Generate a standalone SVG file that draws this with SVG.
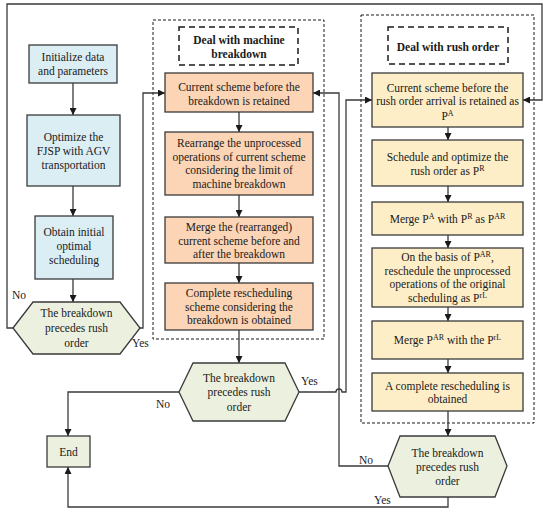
<svg xmlns="http://www.w3.org/2000/svg" width="550" height="513" viewBox="0 0 550 513">
<defs>
<marker id="ah" viewBox="0 0 8 8" refX="8" refY="4" markerWidth="7" markerHeight="7" markerUnits="userSpaceOnUse" orient="auto">
<path d="M0,0 L8,4 L0,8 Z" fill="#1a1a1a"/>
</marker>
<style>
text{font-family:"Liberation Serif","Times New Roman",serif;font-size:11.5px;fill:#1a1a1a;text-anchor:middle}
.lbl{text-anchor:start}
.ttl{font-weight:bold}
.blue{fill:#dbeef4;stroke:#3a3a3a;stroke-width:1.3}
.peach{fill:#fbd5b5;stroke:#3a3a3a;stroke-width:1.3}
.yellow{fill:#fdeec8;stroke:#3a3a3a;stroke-width:1.3}
.green{fill:#ebf1de;stroke:#3a3a3a;stroke-width:1.3}
.frame{fill:none;stroke:#1a1a1a;stroke-width:1;stroke-dasharray:3,2}
.tbox{fill:none;stroke:#1a1a1a;stroke-width:1.5;stroke-dasharray:6,4}
.c{fill:none;stroke:#3a3a3a;stroke-width:1.3}
.a{marker-end:url(#ah)}
</style>
</defs>

<g id="frames">
<rect class="frame" x="153" y="20" width="171" height="319"/>
<rect class="frame" x="361" y="15" width="173" height="408"/>
</g>

<g id="title-machine">
<rect class="tbox" x="179" y="27" width="119" height="38"/>
<text class="ttl" x="239" y="44">Deal with machine</text>
<text class="ttl" x="239" y="58">breakdown</text>
</g>
<g id="title-rush">
<rect class="tbox" x="388" y="27" width="120" height="37"/>
<text class="ttl" x="448" y="51">Deal with rush order</text>
</g>

<g id="connectors">
<path class="c a" d="M73,83 V115"/>
<path class="c a" d="M73,186 V216"/>
<path class="c a" d="M73,279 V302"/>
<path class="c a" d="M13,328 H7 V4 H542 V100 H523"/>
<path class="c a" d="M140,328 H143 V93 H165"/>
<path class="c a" d="M239,112 V132"/>
<path class="c a" d="M239,195 V217"/>
<path class="c a" d="M239,263 V283"/>
<path class="c a" d="M239,330 V363"/>
<path class="c a" d="M299,392 H336 A3,3 0 0 1 342,392 H346 V100 H372"/>
<path class="c a" d="M179,392 H68 V436"/>
<path class="c a" d="M448,127 V140"/>
<path class="c a" d="M448,186 V202"/>
<path class="c a" d="M448,235 V248"/>
<path class="c a" d="M448,307 V321"/>
<path class="c a" d="M448,359 V373"/>
<path class="c a" d="M448,411 V436"/>
<path class="c a" d="M388,466 H339 V93 H313"/>
<path class="c a" d="M448,497 V507 H68 V467"/>
</g>

<g id="labels">
<text class="lbl" x="12" y="299">No</text>
<text class="lbl" x="132" y="347">Yes</text>
<text class="lbl" x="301" y="385">Yes</text>
<text class="lbl" x="156" y="408">No</text>
<text class="lbl" x="359" y="464">No</text>
<text class="lbl" x="374" y="504">Yes</text>
</g>

<g id="init">
<rect class="blue" x="29" y="45" width="88" height="38"/>
<text x="73" y="61">Initialize data</text>
<text x="73" y="75">and parameters</text>
</g>
<g id="optimize">
<rect class="blue" x="27" y="115" width="93" height="71"/>
<text x="73.5" y="141">Optimize the</text>
<text x="73.5" y="155">FJSP with AGV</text>
<text x="73.5" y="169">transportation</text>
</g>
<g id="obtain">
<rect class="blue" x="35" y="216" width="78" height="63"/>
<text x="74" y="236">Obtain initial</text>
<text x="74" y="250">optimal</text>
<text x="74" y="264">scheduling</text>
</g>
<g id="decision1">
<polygon class="green" points="13,328 33,302 120,302 140,328 120,354 33,354"/>
<text x="76.5" y="317">The breakdown</text>
<text x="76.5" y="332">precedes rush</text>
<text x="76.5" y="347">order</text>
</g>

<g id="m1">
<rect class="peach" x="165" y="73" width="148" height="39"/>
<text x="239" y="91">Current scheme before the</text>
<text x="239" y="105">breakdown is retained</text>
</g>
<g id="m2">
<rect class="peach" x="165" y="132" width="148" height="63"/>
<text x="239" y="147">Rearrange the unprocessed</text>
<text x="239" y="161">operations of current scheme</text>
<text x="239" y="174">considering the limit of</text>
<text x="239" y="188">machine breakdown</text>
</g>
<g id="m3">
<rect class="peach" x="165" y="217" width="148" height="46"/>
<text x="239" y="231">Merge the (rearranged)</text>
<text x="239" y="245">current scheme before and</text>
<text x="239" y="258">after the breakdown</text>
</g>
<g id="m4">
<rect class="peach" x="165" y="283" width="148" height="47"/>
<text x="239" y="297">Complete rescheduling</text>
<text x="239" y="311">scheme considering the</text>
<text x="239" y="324">breakdown is obtained</text>
</g>
<g id="decision2">
<polygon class="green" points="179,392 193,363 285,363 299,392 285,421 193,421"/>
<text x="239" y="382">The breakdown</text>
<text x="239" y="396">precedes rush</text>
<text x="239" y="411">order</text>
</g>

<g id="r1">
<rect class="yellow" x="372" y="73" width="151" height="54"/>
<text x="447.5" y="92">Current scheme before the</text>
<text x="447.5" y="105">rush order arrival is retained as</text>
<text x="447.5" y="120">P<tspan font-size="8" dy="-4">A</tspan></text>
</g>
<g id="r2">
<rect class="yellow" x="372" y="140" width="151" height="46"/>
<text x="447.5" y="161">Schedule and optimize the</text>
<text x="447.5" y="175">rush order as P<tspan font-size="8" dy="-4">R</tspan></text>
</g>
<g id="r3">
<rect class="yellow" x="372" y="202" width="151" height="33"/>
<text x="447.5" y="223">Merge P<tspan font-size="8" dy="-4">A</tspan><tspan dy="4"> with P</tspan><tspan font-size="8" dy="-4">R</tspan><tspan dy="4"> as P</tspan><tspan font-size="8" dy="-4">AR</tspan></text>
</g>
<g id="r4">
<rect class="yellow" x="372" y="248" width="151" height="59"/>
<text x="447.5" y="261">On the basis of P<tspan font-size="8" dy="-4">AR</tspan><tspan dy="4">,</tspan></text>
<text x="447.5" y="275">reschedule the unprocessed</text>
<text x="447.5" y="288">operations of the original</text>
<text x="447.5" y="302">scheduling as P<tspan font-size="8" dy="-4">rL</tspan></text>
</g>
<g id="r5">
<rect class="yellow" x="372" y="321" width="151" height="38"/>
<text x="447.5" y="344">Merge P<tspan font-size="8" dy="-4">AR</tspan><tspan dy="4"> with the P</tspan><tspan font-size="8" dy="-4">rL</tspan></text>
</g>
<g id="r6">
<rect class="yellow" x="372" y="373" width="151" height="38"/>
<text x="447.5" y="390">A complete rescheduling is</text>
<text x="447.5" y="403">obtained</text>
</g>
<g id="decision3">
<polygon class="green" points="388,466 400,436 495,436 507,466 495,497 400,497"/>
<text x="447.5" y="457">The breakdown</text>
<text x="447.5" y="471">precedes rush</text>
<text x="447.5" y="485">order</text>
</g>

<g id="end">
<rect class="green" x="47" y="436" width="43" height="31"/>
<text x="68.5" y="456">End</text>
</g>
</svg>
